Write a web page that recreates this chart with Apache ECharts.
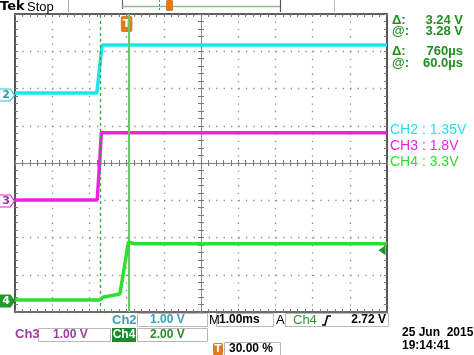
<!DOCTYPE html>
<html><head><meta charset="utf-8">
<script src="https://cdn.jsdelivr.net/npm/echarts@6/dist/echarts.min.js"></script>
<style>html,body{margin:0;padding:0;background:#fff}#c{width:474px;height:355px}</style>
</head><body><div id="c"></div><script>
// ---------- data (time in ms, voltage in V) ----------
const ch2Time = [-3, -0.80, -0.66, 7];
const ch2Volt = [0.05, 0.05, 1.34, 1.34];
const ch3Time = [-3, -0.79, -0.72, -0.68, 7];
const ch3Volt = [0.03, 0.03, 1.10, 1.83, 1.83];
const ch4Time = [-3, -0.72, -0.64, -0.18, 0.05, 0.20, 7];
const ch4Volt = [0.05, 0.05, 0.20, 0.38, 3.17, 3.08, 3.08];
const cursorTimes = [-0.70, 0.06];
const triggerLevel = 2.72;
const channelNames = ['2', '3', '4'];
const cursorReadouts = [['Δ:', '3.24 V'], ['@:', '3.28 V'], ['Δ:', '760µs'], ['@:', '60.0µs']];
const measureLabels = ['CH2 : 1.35V', 'CH3 : 1.8V', 'CH4 : 3.3V'];

// ---------- scope setup ----------
const timeMin = -3, timeMax = 7;          // 1 ms/div, trigger at 30 %
const voltsPerDiv = [1, 1, 2];
const groundDiv = [5.826, 2.98, 0.295];   // ground marker position, divisions from bottom
const traceColors = ['#22e2ee', '#ee22e6', '#2ee02e'];
const markerText = ['#2a9ab0', '#a0309a', '#ffffff'];
const markerFill = ['#ffffff', '#ffffff', '#1f9a2a'];
const markerBorder = ['#22c8dc', '#e020e0', '#1f9a2a'];

const chart = echarts.init(document.getElementById('c'), null, {renderer: 'canvas'});
const G = {left: 15, top: 14, width: 372, height: 298};
const tickColor = '#7a7a7a';
const dotStyle = {color: '#8c8c8c', width: 1.3, type: [1.3, 6.15]};

function divAxis(min, max, pos, onZero, inside, split, lineColor, lineWidth) {
  return {
    type: 'value', min: min, max: max, interval: 1, position: pos, silent: true,
    axisLine: {show: true, onZero: onZero, onZeroAxisIndex: 0, lineStyle: {color: lineColor, width: lineWidth}},
    axisTick: {show: true, inside: inside, length: 3, lineStyle: {color: tickColor}},
    minorTick: {show: true, splitNumber: 5, length: 3, lineStyle: {color: tickColor}},
    axisLabel: {show: false},
    splitLine: {show: split, lineStyle: dotStyle},
    minorSplitLine: {show: false}
  };
}

const xAxes = [
  divAxis(-5, 5, 'bottom', true, true, true, '#888', 1),
  divAxis(-5, 5, 'bottom', true, false, false, '#888', 1),
  divAxis(-5, 5, 'top', false, true, false, '#555', 1.5),
  divAxis(-5, 5, 'bottom', false, true, false, '#666', 1.5),
  {type: 'value', min: timeMin, max: timeMax, show: false},
  {type: 'value', min: timeMin, max: timeMax, position: 'top',
   axisLine: {show: false, onZero: false}, axisTick: {show: false}, splitLine: {show: false},
   axisLabel: {show: true, inside: true, margin: 2, customValues: [0], formatter: function(){return 'T';},
     color: '#fff', backgroundColor: '#e27a1e', fontWeight: 'bold', fontSize: 11,
     fontFamily: 'DejaVu Sans', padding: [3, 2, 2, 2], borderRadius: 2}}
];
const yAxes = [
  divAxis(-4, 4, 'left', true, true, true, '#888', 1),
  divAxis(-4, 4, 'left', true, false, false, '#888', 1),
  divAxis(-4, 4, 'left', false, true, false, '#555', 2),
  divAxis(-4, 4, 'right', false, true, false, '#555', 2)
];
for (let i = 0; i < 3; i++) {
  yAxes.push({type: 'value', show: false,
    min: -groundDiv[i] * voltsPerDiv[i], max: (8 - groundDiv[i]) * voltsPerDiv[i]});
}

const times = [ch2Time, ch3Time, ch4Time];
const volts = [ch2Volt, ch3Volt, ch4Volt];
const series = [];
for (let i = 0; i < 3; i++) {
  const s = {
    type: 'line', xAxisIndex: 4, yAxisIndex: 4 + i, showSymbol: false, silent: true,
    data: times[i].map((t, k) => [t, volts[i][k]]),
    lineStyle: {color: traceColors[i], width: 3.5},
    z: 3 + i,
    markPoint: {
      silent: true, animation: false,
      data: [{name: channelNames[i], coord: [timeMin, 0]}],
      symbol: 'path://M0,0 L10,0 L14,6 L10,12 L0,12 Z',
      symbolSize: [15, 12], symbolOffset: [-8, 0], symbolKeepAspect: false,
      itemStyle: {color: markerFill[i], borderColor: markerBorder[i], borderWidth: 1},
      label: {show: true, formatter: '{b}', color: markerText[i], fontSize: 11,
        fontWeight: 'bold', fontFamily: 'DejaVu Sans', offset: [-1, 0]}
    }
  };
  if (i === 2) {
    s.markPoint.data.push({name: '', coord: [timeMax, triggerLevel], symbol: 'path://M7,0 L7,10 L0,5 Z',
      symbolSize: [7, 10], symbolOffset: [-5, 0], itemStyle: {color: '#1f9a2a', borderWidth: 0},
      label: {show: false}});
    s.markLine = {
      silent: true, animation: false, symbol: ['none', 'none'], label: {show: false},
      data: [
        {xAxis: cursorTimes[0], lineStyle: {color: '#33aa33', width: 1.3, type: [3, 3]}},
        {xAxis: cursorTimes[1], lineStyle: {color: '#66c866', width: 2, type: 'solid'}}
      ]
    };
  }
  series.push(s);
}

// ---------- text / decoration ----------
const FF = 'Liberation Sans';
function txt(x, y, text, color, size, weight, align, family) {
  return {type: 'text', x: x, y: y, silent: true, z: 10,
    style: {text: text, fill: color, font: (weight || 'normal') + ' ' + size + 'px "' + (family || FF) + '"',
      textAlign: align || 'left', textVerticalAlign: 'middle'}};
}
function box(x, y, w, h, fill, stroke) {
  return {type: 'rect', silent: true, z: 9, shape: {x: x, y: y, width: w, height: h},
    style: {fill: fill || 'none', stroke: stroke || '#b8b8b8', lineWidth: 1}};
}
function ln(x1, y1, x2, y2, color, w, dash) {
  return {type: 'line', silent: true, z: 9, shape: {x1: x1, y1: y1, x2: x2, y2: y2},
    style: {stroke: color, lineWidth: w || 1, lineDash: dash || null}};
}
const g = [];
// header
g.push(txt(0, 7, 'Tek', '#000', 13, 'bold', 'left', 'DejaVu Sans'));
g.push(txt(27, 7, 'Stop', '#000', 13, 'normal'));
g.push(ln(68.5, 0, 68.5, 12, '#aaa', 1));
g.push(ln(334.5, 0, 334.5, 12, '#bbb', 1));
g.push(ln(122.5, 0, 122.5, 9, '#666', 1.2));
g.push(ln(122, 6.5, 280, 6.5, '#8fbf8f', 1.5));
g.push(ln(280.5, 0, 280.5, 12, '#555', 1.2));
g.push(ln(159.5, 0, 159.5, 12, '#33aa33', 1, [2, 2]));
g.push({type: 'rect', silent: true, z: 10, shape: {x: 166, y: 0, width: 7, height: 11, r: 1.5}, style: {fill: '#e27a1e'}});
// cursor readouts
const ry = [20, 31, 51, 63];
cursorReadouts.forEach((r, i) => {
  g.push(txt(392, ry[i], r[0], '#1f8f1f', 13, 'bold'));
  g.push(txt(463, ry[i], r[1], '#1f8f1f', 13, 'bold', 'right'));
});
// measurement labels
const my = [130, 146, 162];
measureLabels.forEach((m, i) => g.push(txt(390, my[i], m, traceColors[i], 14, 'normal')));
// bottom row 1
g.push(txt(112, 320, 'Ch2', '#3a9fb2', 13, 'bold'));
g.push(box(137.5, 313.5, 70, 13));
g.push(txt(150, 320, '1.00 V', '#3a9fb2', 12, 'bold'));
g.push(txt(209, 320, 'M', '#000', 13, 'normal'));
g.push(box(216.5, 313.5, 57, 13));
g.push(txt(219, 320, '1.00ms', '#000', 12, 'bold'));
g.push(txt(276, 320, 'A', '#000', 13, 'normal'));
g.push(box(285.5, 313.5, 103, 13));
g.push(txt(293, 320, 'Ch4', '#2a9a2a', 13, 'normal'));
g.push({type: 'polyline', silent: true, z: 10, shape: {points: [[322, 325], [325, 325], [327.5, 316], [331, 316]]},
  style: {stroke: '#000', lineWidth: 1.6, fill: 'none'}});
g.push(txt(386, 320, '2.72 V', '#000', 12, 'bold', 'right'));
// bottom row 2
g.push(txt(15, 334, 'Ch3', '#a03aa0', 13, 'bold'));
g.push(box(38.5, 328.5, 72, 13));
g.push(txt(53, 334.5, '1.00 V', '#a03aa0', 12, 'bold'));
g.push({type: 'rect', silent: true, z: 9, shape: {x: 112, y: 328, width: 24, height: 14}, style: {fill: '#1f8a2c'}});
g.push(txt(124, 335, 'Ch4', '#fff', 12, 'bold', 'center'));
g.push(box(137.5, 328.5, 70, 13));
g.push(txt(150, 334.5, '2.00 V', '#2a8a2a', 12, 'bold'));
// bottom row 3
g.push({type: 'rect', silent: true, z: 9, shape: {x: 213, y: 343, width: 10, height: 12, r: 1.5}, style: {fill: '#e27a1e'}});
g.push(txt(218, 349, 'T', '#fff', 10, 'bold', 'center', 'DejaVu Sans'));
g.push(box(224.5, 342.5, 56, 13));
g.push(txt(229, 349, '30.00 %', '#000', 12, 'bold'));
// date
g.push(txt(402, 333, '25 Jun  2015', '#000', 12, 'bold'));
g.push(txt(402, 346, '19:14:41', '#000', 12, 'bold'));

chart.setOption({
  backgroundColor: '#ffffff',
  animation: false,
  grid: Object.assign({show: true, borderColor: '#555', borderWidth: 1.5, backgroundColor: '#fff'}, G),
  xAxis: xAxes,
  yAxis: yAxes,
  series: series,
  graphic: g
});
</script></body></html>
